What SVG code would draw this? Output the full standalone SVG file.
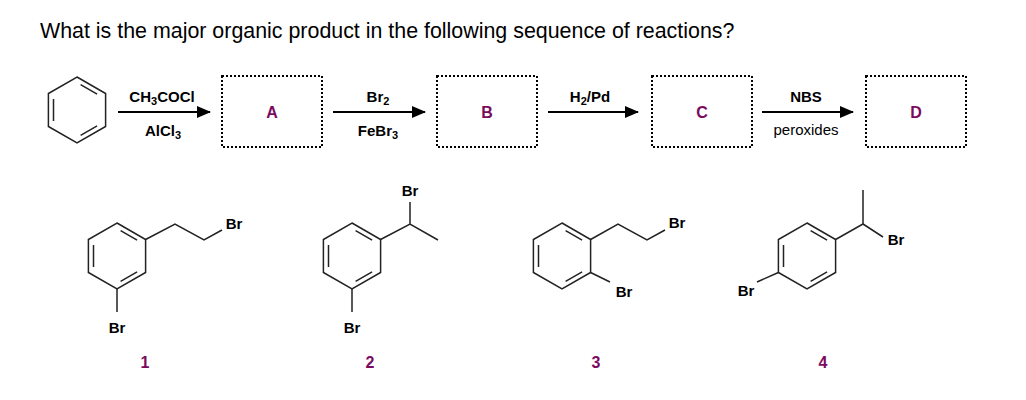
<svg xmlns="http://www.w3.org/2000/svg" xmlns:xlink="http://www.w3.org/1999/xlink" width="1026" height="400" viewBox="0 0 1026 400">
<style>
text{font-family:"Liberation Sans",Arial,sans-serif;fill:#000}
.t{font-size:21.4px}
.r{font-size:15px;font-weight:bold;text-anchor:middle}
.p{font-size:15px;text-anchor:middle}
.lab{font-size:16px;font-weight:bold;fill:#7b0a5e;text-anchor:middle}
.box{fill:none;stroke:#000;stroke-width:2;stroke-dasharray:2 2}
.b{stroke:#222;stroke-width:1.5;fill:none}
.ar{stroke:#000;stroke-width:2;fill:none;marker-end:url(#ah)}
</style>
<defs>
<marker id="ah" viewBox="0 0 14 12" refX="13" refY="6" markerWidth="14" markerHeight="12" markerUnits="userSpaceOnUse" orient="auto"><path d="M0,0 L14,6 L0,12Z" fill="#000"/></marker>
<g id="ring" class="b">
<polygon points="0,-33 28.6,-16.5 28.6,16.5 0,33 -28.6,16.5 -28.6,-16.5"/>
<path d="M-23.5,-11V11M3.6,-25.3L20.1,-15.8M20.1,15.8L3.6,25.3"/>
</g>
</defs>
<text class="t" x="40" y="38">What is the major organic product in the following sequence of reactions?</text>
<g id="benzene"><use xlink:href="#ring" x="77" y="110"/></g>
<g id="boxA"><rect class="box" x="222" y="76" width="100" height="71"/><text class="lab" x="272" y="118">A</text></g>
<g id="boxB"><rect class="box" x="437" y="76" width="100" height="71"/><text class="lab" x="487" y="118">B</text></g>
<g id="boxC"><rect class="box" x="652" y="76" width="100" height="71"/><text class="lab" x="702" y="118">C</text></g>
<g id="boxD"><rect class="box" x="866" y="76" width="100" height="71"/><text class="lab" x="916" y="118">D</text></g>
<g id="connectors">
<path class="ar" d="M118,112H210"/>
<path class="ar" d="M333,112H425"/>
<path class="ar" d="M548,112H638"/>
<path class="ar" d="M762,112H853"/>
</g>
<g id="reagents">
<text class="r" x="162" y="102">CH<tspan font-size="11" dy="3">3</tspan><tspan dy="-3">COCl</tspan></text>
<text class="r" x="163" y="136">AlCl<tspan font-size="11" dy="3">3</tspan></text>
<text class="r" x="378" y="102">Br<tspan font-size="11" dy="3">2</tspan></text>
<text class="r" x="378" y="136">FeBr<tspan font-size="11" dy="3">3</tspan></text>
<text class="r" x="590" y="102">H<tspan font-size="11" dy="3">2</tspan><tspan dy="-3">/Pd</tspan></text>
<text class="r" x="806" y="102">NBS</text>
<text class="p" x="806" y="135">peroxides</text>
</g>
<g id="s1">
<use xlink:href="#ring" x="117" y="256"/>
<path class="b" d="M145.6,239.5L175,224L204,240L222,230M117,289V312"/>
<text class="r" x="234" y="229">Br</text>
<text class="r" x="117" y="333">Br</text>
<text class="lab" x="145" y="368">1</text>
</g>
<g id="s2">
<use xlink:href="#ring" x="352" y="256"/>
<path class="b" d="M380.6,239.5L410,224L438,240M410,224V202M352,289V312"/>
<text class="r" x="410" y="196">Br</text>
<text class="r" x="352" y="333">Br</text>
<text class="lab" x="370" y="368">2</text>
</g>
<g id="s3">
<use xlink:href="#ring" x="562" y="256"/>
<path class="b" d="M590.6,239.5L618,224L647,240L665,230M590.6,272.5L610,282"/>
<text class="r" x="677" y="228">Br</text>
<text class="r" x="624" y="297">Br</text>
<text class="lab" x="596" y="368">3</text>
</g>
<g id="s4">
<use xlink:href="#ring" x="807" y="256"/>
<path class="b" d="M835.6,239.5L863,224V190M863,224L883,237M778.4,272.5L757,282"/>
<text class="r" x="896" y="245">Br</text>
<text class="r" x="746" y="296">Br</text>
<text class="lab" x="823" y="368">4</text>
</g>
</svg>
